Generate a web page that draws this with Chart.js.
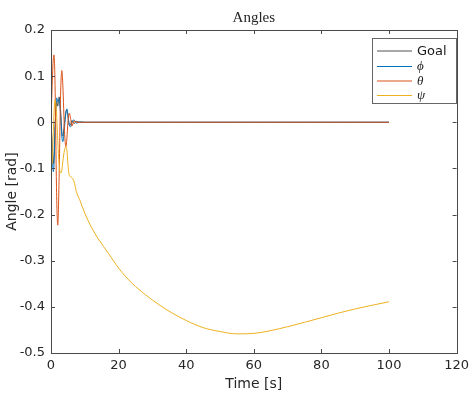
<!DOCTYPE html>
<html>
<head>
<meta charset="utf-8">
<script src="https://cdn.jsdelivr.net/npm/chart.js@4"></script>
<style>
  html, body { margin: 0; padding: 0; background: #fff; }
</style>
</head>
<body>
<canvas id="myChart" width="474" height="396"></canvas>
<script>
// time samples [s] and the four angle series [rad]
const time = [0, 0.3, 0.7, 0.9, 1.2, 1.5, 1.7, 2.0, 2.4, 2.8,
  3.2, 3.5, 4.0, 4.4, 4.7, 5.0, 5.4, 5.8, 6.2, 6.8,
  7.5, 8.5, 10, 12, 14, 17, 20, 24, 28, 32,
  36, 40, 45, 50, 55, 60, 65, 70, 75, 80,
  85, 90, 95, 100];

const goal = [0, -0.04, -0.09, -0.07, -0.01, 0.03, 0.045, 0.035, 0.055, 0.03,
  -0.02, -0.03, 0.0, 0.022, 0.027, 0.015, -0.006, -0.005, 0.004, -0.003,
  0.002, 0, 0, 0, 0, 0, 0, 0, 0, 0,
  0, 0, 0, 0, 0, 0, 0, 0, 0, 0,
  0, 0, 0, 0];

const phi = [0, -0.06, -0.107, -0.09, -0.02, 0.04, 0.053, 0.045, 0.05, 0.02,
  -0.03, -0.042, -0.01, 0.02, 0.029, 0.015, -0.005, -0.01, 0.0, 0.005,
  -0.002, 0.001, 0, 0, 0, 0, 0, 0, 0, 0,
  0, 0, 0, 0, 0, 0, 0, 0, 0, 0,
  0, 0, 0, 0];

const theta = [0, 0.07, 0.14, 0.146, 0.08, -0.08, -0.17, -0.223, -0.12, 0.05,
  0.112, 0.08, -0.02, -0.053, -0.035, 0.0, 0.02, 0.008, -0.008, 0.003,
  0, 0, 0, 0, 0, 0, 0, 0, 0, 0,
  0, 0, 0, 0, 0, 0, 0, 0, 0, 0,
  0, 0, 0, 0];

const psi = [0, -0.09, -0.02, 0.02, 0.048, 0.035, 0.01, -0.04, -0.09, -0.11,
  -0.105, -0.085, -0.06, -0.053, -0.06, -0.09, -0.115, -0.118, -0.12, -0.128,
  -0.15, -0.168, -0.197, -0.228, -0.253, -0.284, -0.316, -0.349, -0.374, -0.3955,
  -0.414, -0.4295, -0.445, -0.4535, -0.4585, -0.4575, -0.4515, -0.443, -0.4335, -0.4235,
  -0.4135, -0.4045, -0.3965, -0.389];

const xTicks = [0, 20, 40, 60, 80, 100, 120];
const yTicks = [-0.5, -0.4, -0.3, -0.2, -0.1, 0, 0.1, 0.2];

const seriesNames = ["Goal", "\u03d5", "\u03b8", "\u03c8"];
const seriesColors = ["#505050", "#0072BD", "#D95319", "#EDB120"];

const toPoints = (vals) => vals.map((v, i) => ({ x: time[i], y: v }));

// box with inward ticks on all four sides, like the original figure
const boxPlugin = {
  id: "boxPlugin",
  afterDatasetsDraw(chart) {
    const { ctx, chartArea: a, scales } = chart;
    ctx.save();
    ctx.strokeStyle = "#4a4a4a";
    ctx.lineWidth = 1;
    ctx.strokeRect(Math.round(a.left) + 0.5, Math.round(a.top) + 0.5,
      Math.round(a.right - a.left), Math.round(a.bottom - a.top));
    ctx.beginPath();
    xTicks.forEach((t) => {
      const px = Math.round(scales.x.getPixelForValue(t)) + 0.5;
      ctx.moveTo(px, a.bottom); ctx.lineTo(px, a.bottom - 4);
      ctx.moveTo(px, a.top); ctx.lineTo(px, a.top + 4);
    });
    yTicks.forEach((t) => {
      const py = Math.round(scales.y.getPixelForValue(t)) + 0.5;
      ctx.moveTo(a.left, py); ctx.lineTo(a.left + 4, py);
      ctx.moveTo(a.right, py); ctx.lineTo(a.right - 4, py);
    });
    ctx.stroke();

    // title
    ctx.fillStyle = "#262626";
    ctx.font = "15px 'Liberation Serif'";
    ctx.textAlign = "center";
    ctx.textBaseline = "middle";
    ctx.fillText("Angles", (a.left + a.right) / 2, 18);

    // legend in the upper right corner
    const lx = 372.5, ly = 38.5, lw = 84, lh = 65;
    ctx.fillStyle = "#fff";
    ctx.fillRect(lx, ly, lw, lh);
    ctx.strokeStyle = "#666";
    ctx.strokeRect(lx, ly, lw, lh);
    const rows = [50.5, 66, 80.5, 95];
    chart.data.datasets.forEach((ds, i) => {
      ctx.strokeStyle = ds.borderColor;
      ctx.beginPath();
      ctx.moveTo(377, rows[i] + 0.5);
      ctx.lineTo(412, rows[i] + 0.5);
      ctx.stroke();
      ctx.fillStyle = "#1a1a1a";
      ctx.textAlign = "left";
      ctx.font = i === 0 ? "13px 'DejaVu Sans'" : "italic 13px 'Liberation Serif'";
      ctx.fillText(ds.label, 417, rows[i] + 1);
    });
    ctx.restore();
  },
};

const ctx = document.getElementById("myChart");

const myChart = new Chart(ctx, {
  type: "line",
  data: {
    datasets: seriesNames.map((name, i) => ({
      label: name,
      data: toPoints([goal, phi, theta, psi][i]),
      borderColor: seriesColors[i],
      borderWidth: 1,
      pointRadius: 0,
      cubicInterpolationMode: "monotone",
      order: seriesNames.length - i, // later series drawn on top, as in the original
    })),
  },
  options: {
    responsive: false,
    animation: false,
    layout: { padding: { top: 30, right: 14, left: 0, bottom: 0 } },
    scales: {
      x: {
        type: "linear",
        min: 0,
        max: 120,
        afterBuildTicks: (s) => { s.ticks = xTicks.map((v) => ({ value: v })); },
        afterFit: (s) => { s.height = 43; },
        grid: { display: false, drawTicks: false },
        border: { display: false },
        ticks: {
          padding: 5,
          color: "#262626",
          font: { family: "'DejaVu Sans'", size: 13 },
          maxRotation: 0,
        },
        title: {
          display: true,
          text: "Time [s]",
          color: "#262626",
          font: { family: "'DejaVu Sans'", size: 14 },
          padding: { top: 0, bottom: 3 },
        },
      },
      y: {
        min: -0.5,
        max: 0.2,
        afterBuildTicks: (s) => { s.ticks = yTicks.map((v) => ({ value: v })); },
        afterFit: (s) => { s.width = 51; },
        grid: { display: false, drawTicks: false },
        border: { display: false },
        ticks: {
          padding: 6,
          color: "#262626",
          font: { family: "'DejaVu Sans'", size: 13 },
          callback: (v) => (v === 0 ? "0" : v.toFixed(1)),
        },
        title: {
          display: true,
          text: "Angle [rad]",
          color: "#262626",
          font: { family: "'DejaVu Sans'", size: 14 },
          padding: { top: 4, bottom: 0 },
        },
      },
    },
    plugins: {
      legend: { display: false },
      tooltip: { enabled: false },
    },
  },
  plugins: [boxPlugin],
});
</script>
</body>
</html>
